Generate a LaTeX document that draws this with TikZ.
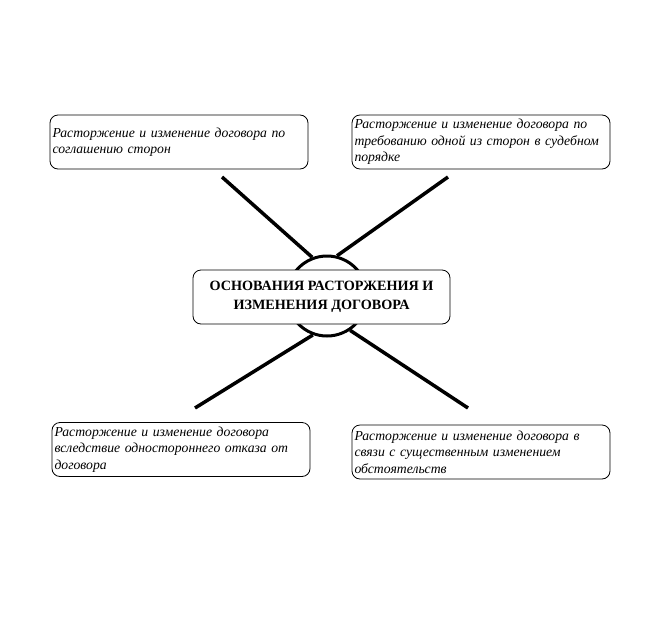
\documentclass[tikz,border=0pt]{standalone}
\usepackage{fontspec}
\setmainfont{Liberation Serif}
\begin{document}
\begin{tikzpicture}[x=1pt,y=-1pt,
    reason/.style={draw,rounded corners=8pt,line width=0.8pt,fill=white,
      minimum width=258pt,minimum height=54pt,text width=253pt,align=left,
      inner sep=2.5pt,font=\itshape\fontsize{13.7}{16.5}\selectfont},
    mainbox/.style={draw,rounded corners=8pt,line width=0.8pt,fill=white,
      minimum width=257pt,minimum height=54pt,align=center,
      font=\bfseries\fontsize{14.2}{19}\selectfont},
    spoke/.style={line width=3.5pt}]
  \useasboundingbox (0,0) rectangle (656,616);
  % hub ring behind the central box
  \node[circle,draw,line width=3pt,inner sep=0pt,minimum size=80pt] (hub) at (327,296) {};
  \draw
    (321.5,297) node[mainbox] (main){ОСНОВАНИЯ РАСТОРЖЕНИЯ И\\ИЗМЕНЕНИЯ ДОГОВОРА}
    (179,142) node[reason] (agree){Расторжение и изменение договора по\\соглашению сторон}
    (481,142) node[reason] (court){Расторжение и изменение договора по\\требованию одной из сторон в судебном\\порядке}
    (181,449.5) node[reason] (refusal){Расторжение и изменение договора\\вследствие одностороннего отказа от\\договора}
    (481,452) node[reason] (change){Расторжение и изменение договора в\\связи с существенным изменением\\обстоятельств};
  \coordinate (agreeEnd) at (222,177);
  \coordinate (courtEnd) at (448,177);
  \coordinate (refusalEnd) at (195,408);
  \coordinate (changeEnd) at (468,408);
  \begin{scope}[spoke]
    \draw (agreeEnd) -- (hub.111);
    \draw (courtEnd) -- (hub.76);
    \draw (refusalEnd) -- (hub.250);
    \draw (changeEnd) -- (hub.304);
  \end{scope}
\end{tikzpicture}
\end{document}
